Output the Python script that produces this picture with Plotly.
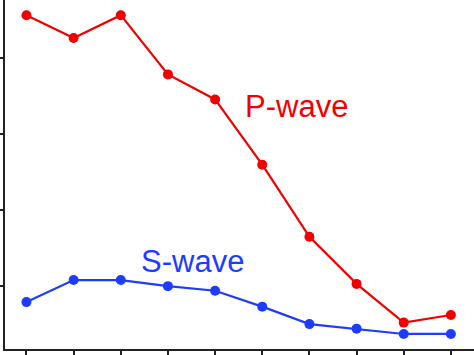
import plotly.graph_objects as go

x_idx = list(range(10))
p_wave = [4.57, 4.27, 4.57, 3.79, 3.46, 2.60, 1.65, 1.03, 0.52, 0.62]
s_wave = [0.79, 1.08, 1.08, 1.00, 0.94, 0.73, 0.50, 0.44, 0.37, 0.37]
y_ticks = [1, 2, 3, 4]

RED = "rgb(240,0,0)"
BLUE = "rgb(30,60,255)"

fig = go.Figure()
fig.add_trace(go.Scatter(x=x_idx, y=p_wave, mode="lines+markers",
                         line=dict(color=RED, width=2.2),
                         marker=dict(color=RED, size=10), showlegend=False))
fig.add_trace(go.Scatter(x=x_idx, y=s_wave, mode="lines+markers",
                         line=dict(color=BLUE, width=2.2),
                         marker=dict(color=BLUE, size=10), showlegend=False))

fig.add_annotation(x=5.72, y=3.37, text="P-wave", showarrow=False,
                   font=dict(family="Liberation Sans, Arial", size=31, color=RED))
fig.add_annotation(x=3.52, y=1.33, text="S-wave", showarrow=False,
                   font=dict(family="Liberation Sans, Arial", size=31, color=BLUE))

fig.update_layout(
    width=474, height=355,
    margin=dict(l=5, r=0, t=0, b=6, pad=0),
    plot_bgcolor="white", paper_bgcolor="white",
)
fig.update_xaxes(range=[-0.455, 9.49], tickvals=x_idx, ticks="outside", ticklen=8,
                 tickwidth=1.5, tickcolor="#222", showticklabels=False,
                 showline=True, linecolor="#222", linewidth=2, showgrid=False,
                 zeroline=False, automargin=False)
fig.update_yaxes(range=[0.172, 4.77], tickvals=y_ticks, ticks="outside", ticklen=8,
                 tickwidth=1.5, tickcolor="#222", showticklabels=False,
                 showline=True, linecolor="#222", linewidth=2, showgrid=False,
                 zeroline=False, automargin=False)

fig.write_html("out.html", config={"displayModeBar": False},
               post_script="document.body.style.margin='0';")
